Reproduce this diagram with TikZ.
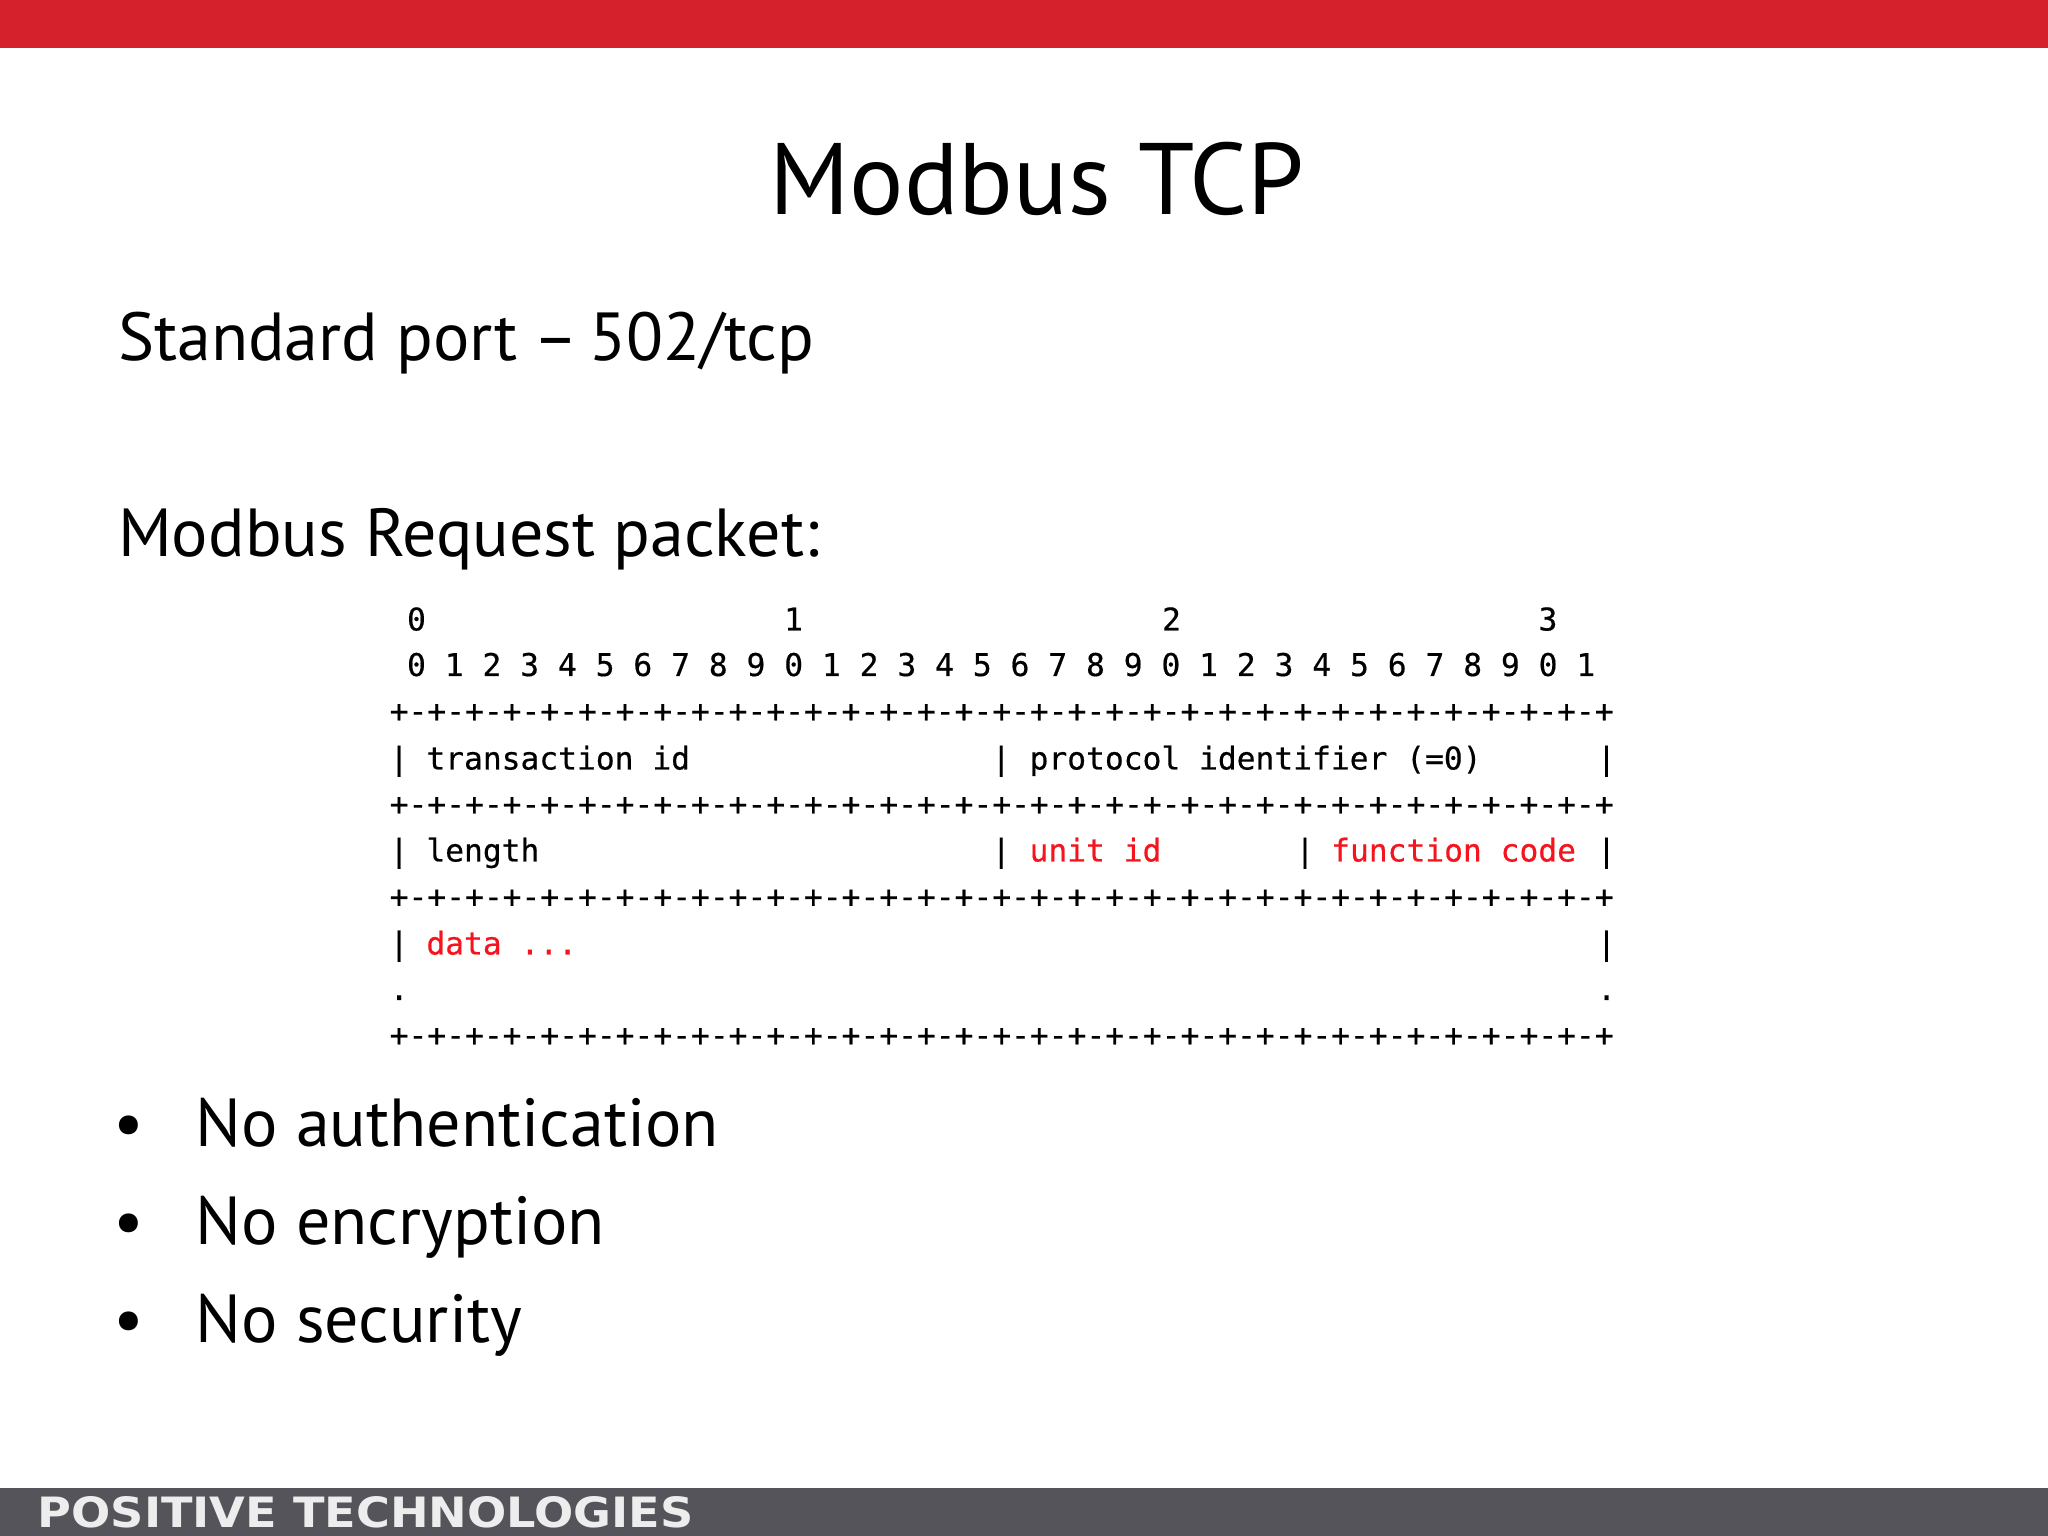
\documentclass[tikz,border=0pt]{standalone}
\usepackage{fontspec}
\usepackage{graphicx}
\setmainfont{PT Sans}
\newfontfamily\tablefont[FakeBold=0.5]{DejaVu Sans Mono}
\newfontfamily\logofont{DejaVu Sans}
\definecolor{barred}{HTML}{D4212C}
\definecolor{bargray}{HTML}{55545A}
\definecolor{fieldred}{HTML}{F5141E}
\newcommand{\plusrow}{+-+-+-+-+-+-+-+-+-+-+-+-+-+-+-+-+-+-+-+-+-+-+-+-+-+-+-+-+-+-+-+-+}

\begin{document}
\begin{tikzpicture}
\tikzset{bar/.style = {inner sep=0,outer sep=0,minimum width=20.48cm}}
\tikzset{title/.style = {anchor=base,font=\fontsize{28.9}{32}\selectfont}}
\tikzset{body/.style = {anchor=base west,inner sep=0,font=\fontsize{19.35}{24}\selectfont}}
\tikzset{cell/.style = {anchor=base west,inner sep=0,font=\tablefont\fontsize{8.9}{10}\selectfont}}
\tikzset{digit/.style = {cell,anchor=base}}
\tikzset{field/.style = {cell,text=fieldred}}
\useasboundingbox (0, 0) rectangle (20.48, 15.36);
\node[bar,fill=barred,minimum height=0.48cm,anchor=north west](topbar) at (0, 15.36) {};
\node[bar,fill=bargray,minimum height=0.48cm,anchor=south west](footbar) at (0, 0) {};
\node[anchor=west,inner sep=0,text=white!93!black](logo) at (0.37, 0.24) {\logofont\resizebox{6.56cm}{0.31cm}{\textbf{POSITIVE TECHNOLOGIES}}};
\node[title](heading) at (10.37, 13.21) {Modbus TCP};
\node[body](port) at (1.175, 11.755) {Standard port\kern-0.03cm{} –\kern-0.07cm{} 502/tcp};
\node[body](request) at (1.175, 9.795) {Modbus Request packet:};
\node[digit](ten0) at (4.165, 9.055) {0};
\node[digit](ten1) at (7.935, 9.055) {1};
\node[digit](ten2) at (11.715, 9.055) {2};
\node[digit](ten3) at (15.48, 9.055) {3};
\foreach \i in {0,...,31} {
  \pgfmathtruncatemacro{\d}{mod(\i,10)}
  \node[digit](bit\i) at (4.165+0.3772*\i, 8.6) {\d};
}
\node[cell](sep0) at (3.89, 8.14) {\plusrow};
\node[cell](bar0) at (3.89, 7.665) {|};
\node[cell](transaction) at (4.257, 7.665) {transaction id};
\node[cell](bar1) at (9.912, 7.665) {|};
\node[cell](protocol) at (10.289, 7.665) {protocol identifier (=0)};
\node[cell](bar2) at (15.964, 7.665) {|};
\node[cell](sep1) at (3.89, 7.21) {\plusrow};
\node[cell](bar3) at (3.89, 6.745) {|};
\node[cell](length) at (4.257, 6.745) {length};
\node[cell](bar4) at (9.912, 6.745) {|};
\node[field](unit) at (10.289, 6.745) {unit id};
\node[cell](bar5) at (12.948, 6.745) {|};
\node[field](function) at (13.305, 6.745) {function code};
\node[cell](bar6) at (15.964, 6.745) {|};
\node[cell](sep2) at (3.89, 6.285) {\plusrow};
\node[cell](bar7) at (3.89, 5.815) {|};
\node[field](data) at (4.257, 5.815) {data ...};
\node[cell](bar8) at (15.964, 5.815) {|};
\node[cell](dot0) at (3.89, 5.36) {.};
\node[cell](dot1) at (15.964, 5.36) {.};
\node[cell](sep3) at (3.89, 4.90) {\plusrow};
\node[body](bullet0) at (1.13, 3.895) {•};
\node[body](auth) at (1.95, 3.895) {No authentication};
\node[body](bullet1) at (1.13, 2.915) {•};
\node[body](encrypt) at (1.95, 2.915) {No encryption};
\node[body](bullet2) at (1.13, 1.935) {•};
\node[body](security) at (1.95, 1.935) {No security};
\end{tikzpicture}
\end{document}
